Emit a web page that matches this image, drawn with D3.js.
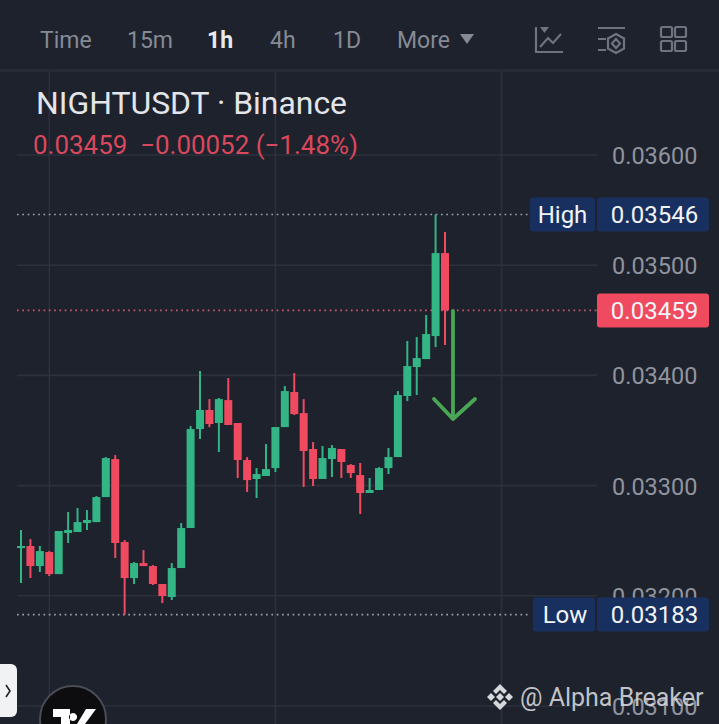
<!DOCTYPE html>
<html><head><meta charset="utf-8">
<script src="https://cdn.jsdelivr.net/npm/d3@7/dist/d3.min.js"></script>
<style>html,body{margin:0;padding:0;background:#1e222d;overflow:hidden}svg{display:block}text{font-family:Roboto,sans-serif}</style>
</head><body><svg id="c" width="719" height="724"></svg>
<script>
const opens=[0.032433,0.032452,0.03227,0.032397,0.032197,0.03257,0.032579,0.03266,0.032669,0.032896,0.033241,0.032488,0.032161,0.032297,0.03227,0.032107,0.031989,0.032252,0.032615,0.033513,0.033686,0.033568,0.033776,0.033568,0.033232,0.03306,0.033087,0.033159,0.033531,0.033849,0.033658,0.033332,0.03306,0.033241,0.033332,0.033187,0.033096,0.032933,0.03296,0.033159,0.033259,0.033813,0.034076,0.034148,0.034357,0.03511];
const closes=[0.032452,0.03227,0.032406,0.032197,0.032588,0.032597,0.032669,0.032688,0.032896,0.03325,0.032479,0.032161,0.032297,0.03227,0.032107,0.031998,0.032252,0.032615,0.033513,0.033686,0.033559,0.033785,0.03355,0.033232,0.03305,0.033105,0.03315,0.033531,0.033858,0.033649,0.033314,0.03306,0.03325,0.033341,0.033214,0.033114,0.032933,0.03296,0.033159,0.033259,0.033822,0.034085,0.034157,0.034375,0.03511,0.03459];
const highs=[0.032597,0.032515,0.032452,0.032406,0.032588,0.03276,0.032796,0.032778,0.032905,0.033259,0.033277,0.032506,0.032306,0.032415,0.032279,0.032107,0.032297,0.03266,0.03354,0.03404,0.033785,0.033795,0.033976,0.033568,0.033259,0.033159,0.033377,0.033531,0.033903,0.034021,0.033785,0.033395,0.033359,0.033368,0.033332,0.033196,0.033205,0.033069,0.033168,0.033341,0.033858,0.034312,0.034348,0.034548,0.03546,0.035301];
const lows=[0.032116,0.032161,0.032216,0.032179,0.032197,0.032479,0.032579,0.032597,0.032669,0.032896,0.032343,0.03183,0.032107,0.03227,0.032098,0.031934,0.031962,0.032252,0.032615,0.033423,0.033531,0.033305,0.03355,0.033069,0.032942,0.032887,0.033087,0.033123,0.033531,0.03364,0.032987,0.032996,0.03306,0.033078,0.033069,0.033069,0.032742,0.032933,0.03296,0.033105,0.033259,0.033767,0.033822,0.034148,0.034257,0.034275];
const priceTicks=[0.036,0.035,0.034,0.033,0.032,0.031];
const timeGridIndex=[3,27,51];
const periods=["Time","15m","1h","4h","1D","More"];
const highValue=0.03546,lowValue=0.03183,lastValue=0.03459;
const title="NIGHTUSDT · Binance";
const quote="0.03459  −0.00052 (−1.48%)";

const UP="#33b585",DOWN="#ef4a60",GRID="#2c303b",MUTED="#858a95",NAVY="#17305f";
const svg=d3.select("#c");
const x=d3.scaleLinear().domain([0,45]).range([21,445]);
const y=d3.scaleLinear().domain([0.036,0.031]).range([155,706]);
const fmt=d3.format(".5f");

// header
svg.append("rect").attr("x",0).attr("y",69).attr("width",719).attr("height",3).attr("fill","#272b36");
const px=[40,127,207,270,333,397];
svg.selectAll("text.period").data(periods).join("text").attr("class","period")
 .attr("x",(d,i)=>px[i]).attr("y",48).attr("font-size",23)
 .attr("font-weight",d=>d==="1h"?700:400).attr("fill",d=>d==="1h"?"#e8eaee":MUTED).text(d=>d);
svg.append("path").attr("d","M460 34H474L467 44Z").attr("fill",MUTED);
// toolbar icons
const ic=svg.append("g").attr("fill","none").attr("stroke","#6e7380").attr("stroke-width",2.2);
ic.append("path").attr("d","M536 27V52H563M540 47L548 38L553 43L561 34");
ic.append("path").attr("d","M540 27L549 27L544.500 33Z").attr("fill","#6e7380").attr("stroke","none");
ic.append("path").attr("d","M598 28H625M598 39H606M598 50H606M616 34L624 38.500V48.500L616 53L608 48.500V38.500ZM616 39L620 43.500L616 48L612 43.500Z");
[[661,27],[675,27],[661,41],[675,41]].forEach(p=>ic.append("rect").attr("x",p[0]).attr("y",p[1]).attr("width",11).attr("height",10).attr("rx",1.5));

// grid
const plot=svg.append("g");
plot.selectAll("line.v").data(timeGridIndex).join("line").attr("class","v")
 .attr("x1",d=>x(d)).attr("x2",d=>x(d)).attr("y1",71).attr("y2",724).attr("stroke",GRID).attr("stroke-width",1.6);
plot.selectAll("line.h").data(priceTicks).join("line").attr("class","h")
 .attr("x1",17).attr("x2",597).attr("y1",d=>y(d)).attr("y2",d=>y(d)).attr("stroke",GRID).attr("stroke-width",1.6);

// axis labels
const axis=d3.axisRight(y).tickValues(priceTicks).tickFormat(fmt).tickSize(0).tickPadding(0);
const ag=svg.append("g").attr("transform","translate(612,1)").call(axis);
ag.select(".domain").remove();
ag.selectAll("text").attr("font-size",23.5).attr("fill","#8f949e").attr("font-family","Roboto,sans-serif");

// reference dotted lines
function dotted(v,x2,c){plot.append("line").attr("x1",17).attr("x2",x2).attr("y1",y(v)).attr("y2",y(v))
 .attr("stroke",c).attr("stroke-width",1.7).attr("stroke-dasharray","1.7 3.6");}
dotted(highValue,530,"#9a9ea6");dotted(lowValue,530,"#9a9ea6");dotted(lastValue,597,"#c9596c");

// candles
const idx=d3.range(opens.length);
const col=i=>closes[i]>=opens[i]?UP:DOWN;
svg.append("g").selectAll("line").data(idx).join("line")
 .attr("x1",x).attr("x2",x).attr("y1",i=>y(highs[i])).attr("y2",i=>y(lows[i]))
 .attr("stroke",col).attr("stroke-width",2);
svg.append("g").selectAll("rect").data(idx).join("rect")
 .attr("x",i=>x(i)-4).attr("width",8)
 .attr("y",i=>y(Math.max(opens[i],closes[i])))
 .attr("height",i=>Math.max(2,Math.abs(y(opens[i])-y(closes[i]))))
 .attr("fill",col);

// price tags
function tag(xp,w,v,fill,txt,rx,tx){
 svg.append("rect").attr("x",xp).attr("y",y(v)-17).attr("width",w).attr("height",34).attr("rx",rx).attr("fill",fill);
 svg.append("text").attr("x",tx).attr("y",y(v)+8.5).attr("text-anchor","middle").attr("font-size",24).attr("fill","#f2f4f7").text(txt);
}
tag(530,65,highValue,NAVY,"High",3,562.5);tag(597,112,highValue,NAVY,fmt(highValue),3,654.5);
tag(533,62,lowValue,NAVY,"Low",3,565);tag(597,112,lowValue,NAVY,fmt(lowValue),3,654.5);
tag(597,112,lastValue,"#ef4a60",fmt(lastValue),3,654.5);

// legend
svg.append("text").attr("x",36).attr("y",114).attr("font-size",31).attr("fill","#e3e5e9")
 .attr("textLength",311).attr("lengthAdjust","spacingAndGlyphs").text(title);
svg.append("text").attr("x",33).attr("y",154).attr("font-size",25.5).attr("fill","#d9485c").style("white-space","pre")
 .attr("textLength",325).attr("lengthAdjust","spacingAndGlyphs").text(quote);

// annotation arrow
svg.append("path").attr("d","M453 311V419M434 399L453 419L475 399").attr("fill","none").attr("stroke","#4aa655").attr("stroke-width",3.8).attr("stroke-linecap","round").attr("stroke-linejoin","round");

// side tab and logo
svg.append("rect").attr("x",-8).attr("y",664).attr("width",25).attr("height",53).attr("rx",6).attr("fill","#f1f2f4");
svg.append("path").attr("d","M6 685L10 691L6 697").attr("fill","none").attr("stroke","#222").attr("stroke-width",1.6);
svg.append("circle").attr("cx",73).attr("cy",719).attr("r",33).attr("fill","#0d0d0f").attr("stroke","#4a4d55").attr("stroke-width",2);
svg.append("path").attr("d","M53 709H70V724H61V717H53ZM73 713a4 4 0 1 0 .01 0ZM86 709H96L85 724H77Z").attr("fill","#fff");

// watermark
const wm=svg.append("g").attr("fill","#d6d8dc");
wm.append("path").attr("d","M500 684L507 691L504 694L500 690L496 694L493 691ZM487 697L491 693L495 697L491 701ZM505 697L509 693L513 697L509 701ZM500 693L504 697L500 701L496 697ZM493 703L496 700L500 704L504 700L507 703L500 710Z");
wm.append("text").attr("x",520).attr("y",706).attr("font-size",25).attr("fill-opacity",.9).text("@ Alpha Breaker");
</script></body></html>
